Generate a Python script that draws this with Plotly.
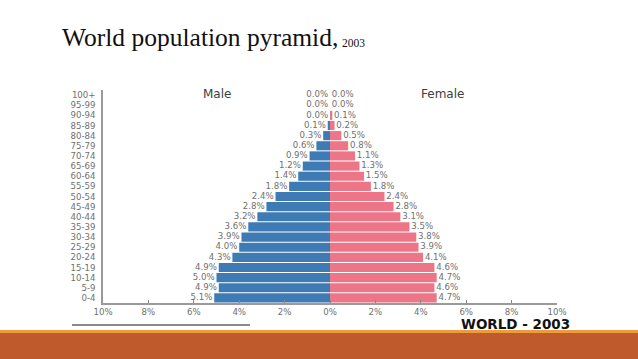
import plotly.graph_objects as go

age_groups = ["0-4", "5-9", "10-14", "15-19", "20-24", "25-29", "30-34", "35-39",
              "40-44", "45-49", "50-54", "55-59", "60-64", "65-69", "70-74",
              "75-79", "80-84", "85-89", "90-94", "95-99", "100+"]
male = [5.1, 4.9, 5.0, 4.9, 4.3, 4.0, 3.9, 3.6, 3.2, 2.8, 2.4, 1.8, 1.4, 1.2, 0.9,
        0.6, 0.3, 0.1, 0.0, 0.0, 0.0]
female = [4.7, 4.6, 4.7, 4.6, 4.1, 3.9, 3.8, 3.5, 3.1, 2.8, 2.4, 1.8, 1.5, 1.3, 1.1,
          0.8, 0.5, 0.2, 0.1, 0.0, 0.0]
x_ticks = [-10, -8, -6, -4, -2, 0, 2, 4, 6, 8, 10]
x_tick_labels = ["10%", "8%", "6%", "4%", "2%", "0%", "2%", "4%", "6%", "8%", "10%"]

W, H = 638, 359
L, R, T, B = 103, 81, 90, 56
pw, ph = W - L - R, H - T - B

def px(x):
    return (x - L) / pw

def py(y):
    return (H - B - y) / ph

BLUE = "#3E7BB4"
PINK = "#EC7587"
lab_font = dict(family="DejaVu Sans", size=8.6, color="#707070")

fig = go.Figure()
fig.add_trace(go.Bar(y=age_groups, x=[-v for v in male], orientation="h",
                     marker=dict(color=BLUE, line=dict(width=0)), hoverinfo="skip"))
fig.add_trace(go.Bar(y=age_groups, x=female, orientation="h",
                     marker=dict(color=PINK, line=dict(width=0)), hoverinfo="skip"))
fig.add_trace(go.Scatter(y=age_groups, x=[-v - 0.08 for v in male], mode="text",
                         text=[f"{v:.1f}%" for v in male], textposition="middle left",
                         textfont=lab_font, hoverinfo="skip"))
fig.add_trace(go.Scatter(y=age_groups, x=[v + 0.08 for v in female], mode="text",
                         text=[f"{v:.1f}%" for v in female], textposition="middle right",
                         textfont=lab_font, hoverinfo="skip"))

fig.update_layout(
    width=W, height=H, margin=dict(l=L, r=R, t=T, b=B, pad=0),
    barmode="overlay", bargap=0.1, showlegend=False,
    paper_bgcolor="white", plot_bgcolor="white",
    xaxis=dict(range=[-10, 10], tickvals=x_ticks, ticktext=x_tick_labels,
               showgrid=False, zeroline=False, showline=True, linecolor="#9a9a9a",
               linewidth=1.5, ticks="inside", ticklen=3, tickcolor="#888",
               tickfont=lab_font, fixedrange=True),
    yaxis=dict(range=[-0.5, 20.5], showgrid=False, zeroline=False, showline=True,
               linecolor="#9a9a9a", linewidth=1.5, ticks="", ticklabelstandoff=4,
               tickfont=lab_font, fixedrange=True),
    shapes=[
        dict(type="rect", xref="paper", yref="paper", x0=px(0), x1=px(W),
             y0=py(330), y1=py(333), fillcolor="#EE9B3E", line=dict(width=0), layer="above"),
        dict(type="rect", xref="paper", yref="paper", x0=px(0), x1=px(W),
             y0=py(333), y1=py(360), fillcolor="#BE5A2C", line=dict(width=0), layer="above"),
        dict(type="line", xref="paper", yref="paper", x0=px(72), x1=px(250),
             y0=py(325), y1=py(325), line=dict(color="#8a8a8a", width=2)),
    ],
    annotations=[
        dict(text="World population pyramid,", xref="paper", yref="paper",
             x=px(60), y=py(54), xanchor="left", yanchor="bottom", showarrow=False,
             font=dict(family="Liberation Serif", size=25.5, color="#111")),
        dict(text="2003", xref="paper", yref="paper",
             x=px(340), y=py(51), xanchor="left", yanchor="bottom", showarrow=False,
             font=dict(family="Liberation Serif", size=11.5, color="#111")),
        dict(text="Male", xref="paper", yref="paper", x=px(217), y=py(94),
             xanchor="center", yanchor="middle", showarrow=False,
             font=dict(family="DejaVu Sans", size=12, color="#404040")),
        dict(text="Female", xref="paper", yref="paper", x=px(442), y=py(94),
             xanchor="center", yanchor="middle", showarrow=False,
             font=dict(family="DejaVu Sans", size=12, color="#404040")),
        dict(text="<b>WORLD - 2003</b>", xref="paper", yref="paper", x=px(515), y=py(324),
             xanchor="center", yanchor="middle", showarrow=False,
             font=dict(family="DejaVu Sans", size=13.5, color="#111")),
    ],
)

fig.write_html("out.html", config={"displayModeBar": False},
               post_script="document.body.style.margin='0';document.body.style.overflow='hidden';")
